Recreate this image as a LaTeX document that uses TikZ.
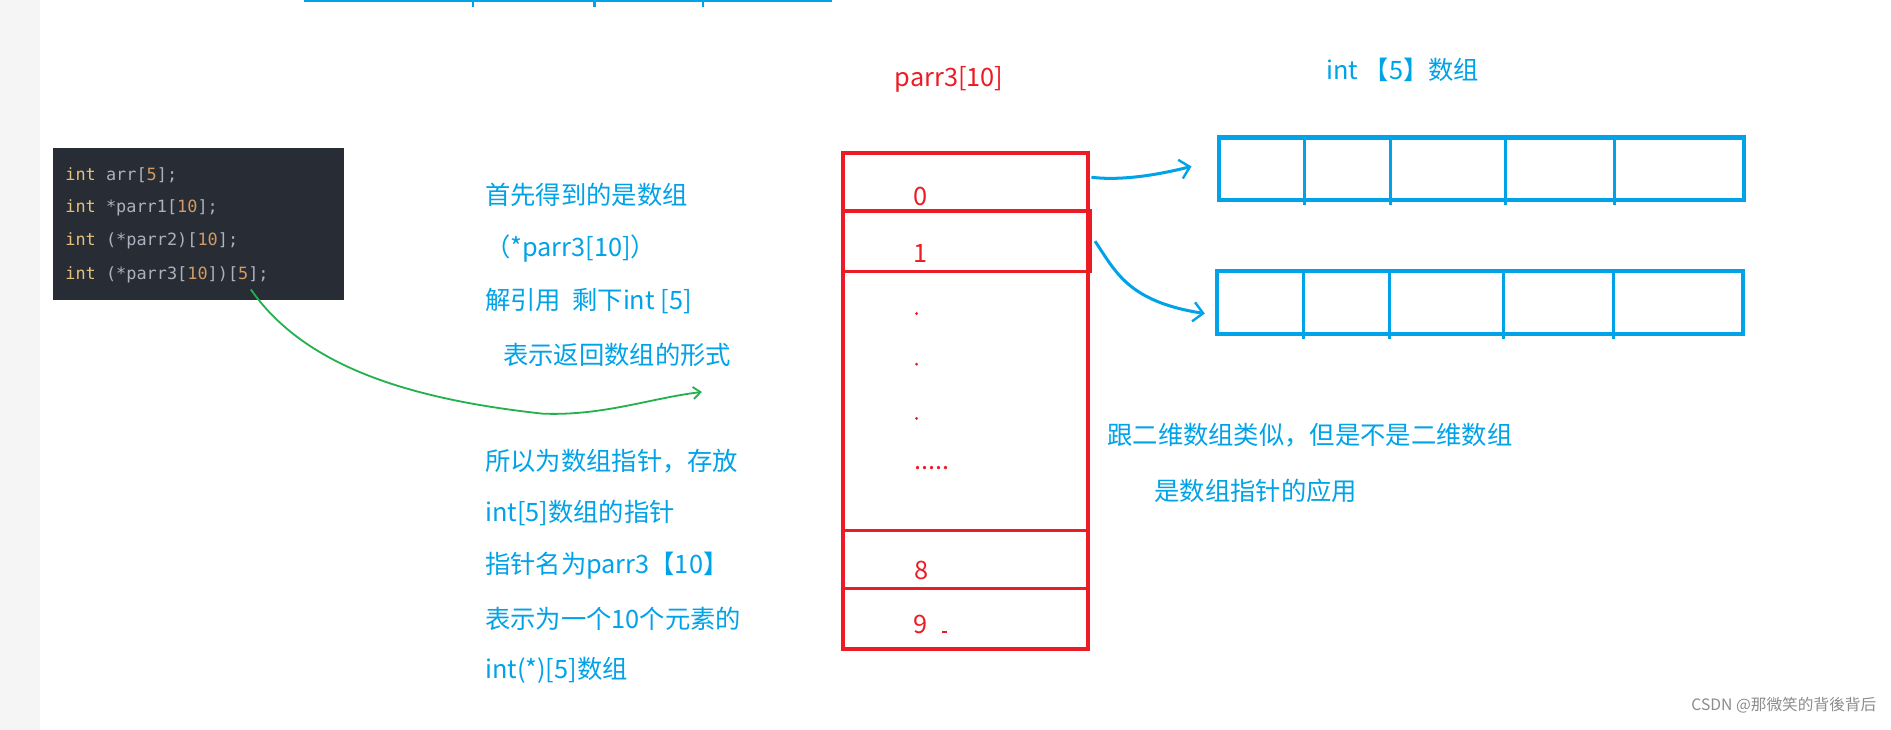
\documentclass[tikz,border=0pt]{standalone}
\usepackage{fontspec}
\setmainfont{Noto Sans CJK SC}
\newfontfamily\codefont{DejaVu Sans Mono}
\usetikzlibrary{arrows.meta}
\definecolor{cblue}{RGB}{0,162,232}
\definecolor{cred}{RGB}{237,28,36}
\definecolor{cgreen}{RGB}{34,177,76}
\definecolor{codebg}{RGB}{40,44,52}
\definecolor{ckw}{RGB}{229,192,123}
\definecolor{cnum}{RGB}{209,154,102}
\definecolor{ctxt}{RGB}{171,178,191}
\begin{document}
\begin{tikzpicture}[x=1pt,y=-1pt,
  btxt/.style={text=cblue,font=\fontsize{21}{21}\selectfont,anchor=west,inner sep=0},
  rtxt/.style={text=cred,font=\fontsize{21}{21}\selectfont,inner sep=0},
  code/.style={font=\codefont\fontsize{14}{14}\selectfont,text=ctxt,anchor=west,inner sep=0},
  rbox/.style={draw=cred,line width=3pt},
  bbox/.style={draw=cblue,line width=3.5pt},
  barrow/.style={draw=cblue,line width=2.5pt,-{Straight Barb[length=8pt,width=16pt,line width=2pt]}}]
\useasboundingbox (0,0) rectangle (1568,605);
\fill[white] (0,0) rectangle (1568,605);
\fill[black!4] (0,0) rectangle (33,605);
% top line
\draw[cblue,line width=3pt] (252,0) -- (690,0);
\foreach \x in {392,493,583} \draw[cblue,line width=2pt] (\x,0) -- (\x,6);
% code block
\fill[codebg] (44,123) rectangle (285,249);
\node[code] (c1) at (54,145) {\textcolor{ckw}{int} arr[\textcolor{cnum}{5}];};
\node[code] (c2) at (54,172) {\textcolor{ckw}{int} *parr1[\textcolor{cnum}{10}];};
\node[code] (c3) at (54,200) {\textcolor{ckw}{int} (*parr2)[\textcolor{cnum}{10}];};
\node[code] (c4) at (54,228) {\textcolor{ckw}{int} (*parr3[\textcolor{cnum}{10}])[\textcolor{cnum}{5}];};
% explanation text
\node[btxt] (t1) at (402,162) {首先得到的是数组};
\node[btxt] (t2) at (402,206) {（*parr3[10]）};
\node[btxt] (t3) at (402,250) {解引用\ \ 剩下int [5]};
\node[btxt] (t4) at (417,294) {表示返回数组的形式};
\node[btxt] (t5) at (402,382) {所以为数组指针，存放};
\node[btxt] (t6) at (402,425) {int[5]数组的指针};
\node[btxt] (t7) at (402,469) {指针名为parr3【10】};
\node[btxt] (t8) at (402,513) {表示为一个10个元素的};
\node[btxt] (t9) at (402,556) {int(*)[5]数组};
% green arrow
\coordinate (gs) at (208,240);
\coordinate (ge) at (582,325);
\draw[cgreen,line width=1.5pt,-{Straight Barb[length=6pt,width=10pt]}] (gs) .. controls (250,300) and (330,330) .. (450,343) .. controls (500,345) and (540,330) .. (ge);
% red array
\node[rtxt] (ptitle) at (787,66) {parr3[10]};
\draw[rbox] (699,127) rectangle (902,538);
\draw[rbox] (699,175) rectangle (904,225);
\draw[rbox] (699,440) -- (902,440);
\draw[rbox] (699,488) -- (902,488);
\node[rtxt] (n0) at (763,163) {0};
\node[rtxt] (n1) at (763,210) {1};
\foreach \y in {260,302,347} \fill[cred] (760,\y) circle (1.3pt);
\node[rtxt] (ndots) at (773,388) {.....};
\node[rtxt] (n8) at (764,473) {8};
\node[rtxt] (n9) at (763,518) {9};
\draw[cred,line width=1pt] (781,524) -- (785,524);
% blue arrays
\node[btxt,anchor=center] (btitle) at (1163,58) {int 【5】数组};
\draw[bbox] (1011,114) rectangle (1446,166);
\foreach \x in {1082,1153,1248,1339} \draw[cblue,line width=2.5pt] (\x,114) -- (\x,170);
\draw[bbox] (1009,225) rectangle (1445,277);
\foreach \x in {1081,1152,1247,1338} \draw[cblue,line width=2.5pt] (\x,225) -- (\x,281);
\coordinate (a0) at (905,147);
\coordinate (a0e) at (988,138);
\coordinate (a1) at (908,200);
\coordinate (a1e) at (999,260);
\draw[barrow] (a0) .. controls (930,150) and (960,145) .. (a0e);
\draw[barrow] (a1) .. controls (925,225) and (935,250) .. (a1e);
% side note
\node[btxt] (s1) at (918,361) {跟二维数组类似，但是不是二维数组};
\node[btxt] (s2) at (957,407) {是数组指针的应用};
% watermark
\node[text=black!45,font=\fontsize{13}{13}\selectfont,anchor=east,inner sep=0] (wm) at (1556,585) {CSDN @那微笑的背後背后};
\end{tikzpicture}
\end{document}
